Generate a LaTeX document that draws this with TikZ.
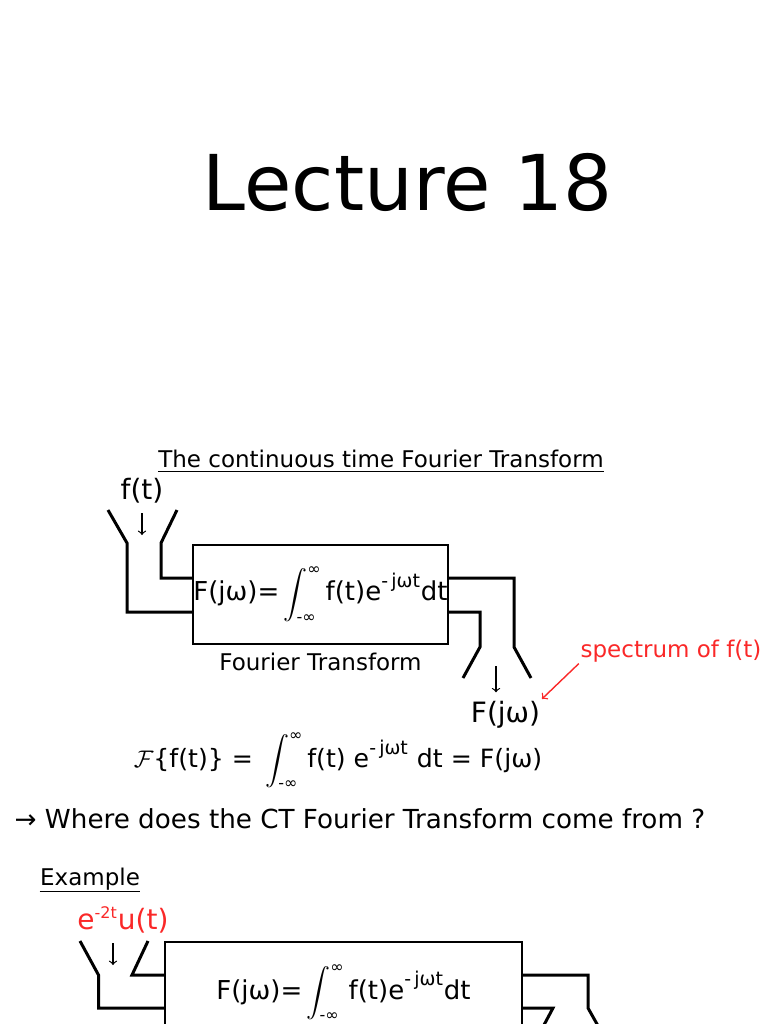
\documentclass[tikz,border=0pt]{standalone}
\usepackage{amsmath}
\usepackage{fontspec}
\setmainfont{DejaVu Sans}
\usetikzlibrary{arrows, positioning}
\definecolor{penred}{RGB}{250,40,40}
\newcommand{\limsz}{\fontsize{8}{8}\selectfont}
\newcommand{\supsz}{\fontsize{9.5}{10}\selectfont}
\newcommand{\ftint}{$\displaystyle\mbox{F(jω)=}\int_{\mbox{\limsz -∞}}^{\mbox{\limsz ∞}}\mbox{f(t)e}^{\mbox{\supsz -\,jωt}}\mbox{dt}$}
\newcommand{\ftdef}{$\displaystyle\mathcal{F}\mbox{\{f(t)\} = }\int_{\mbox{\limsz -∞}}^{\mbox{\limsz ∞}}\mbox{f(t) e}^{\mbox{\supsz -\,jωt}}\mbox{ dt = F(jω)}$}
\tikzstyle{title} = [inner sep=0pt, anchor=base, font=\fontsize{38.5}{46}\selectfont]
\tikzstyle{words} = [inner sep=0pt, anchor=base, font=\fontsize{11.5}{14}\selectfont]
\tikzstyle{question} = [inner sep=0pt, anchor=base, font=\fontsize{13.1}{15}\selectfont]
\tikzstyle{signal} = [inner sep=0pt, anchor=base, font=\fontsize{14}{17}\selectfont]
\tikzstyle{formula} = [inner sep=0pt, anchor=base, font=\fontsize{12.6}{16}\selectfont]
\tikzstyle{remark} = [words, text=penred]
\tikzstyle{system} = [draw, rectangle, line width=1pt, inner sep=0pt, font=\fontsize{13}{16}\selectfont]
\tikzstyle{pipe} = [line width=1.5pt]
\tikzstyle{flow} = [line width=0.6pt, ->, >=to]
\tikzstyle{pointer} = [flow, line width=0.7pt, draw=penred]
\begin{document}
\begin{tikzpicture}[x=0.5pt, y=-0.5pt]
    \useasboundingbox (0,0) rectangle (768,1024);
    % Title
    \node (Lecture) [title] at (408,210) {Lecture 18};

    % Heading
    \node (Heading) [words] at (381,467) {The continuous time Fourier Transform};
    \draw [thin] ([yshift=-2pt]Heading.base west) -- ([yshift=-2pt]Heading.base east);

    % Fourier Transform box
    \node (FourierBox) [system, minimum width=126.5pt, minimum height=49.5pt] at (320.5,594.5) {\ftint};
    \node (FourierLabel) [words, below=4pt of FourierBox] {Fourier Transform};

    % Input funnel
    \node (InputSignal) [signal] at (142,499) {f(t)};
    \coordinate (Inlet) at (142,535);
    \draw [flow, shorten <=5pt] (InputSignal) -- (Inlet);
    \draw [pipe] (108,510) -- (127,543) -- (127,612) -- (FourierBox.west |- 0,612);
    \draw [pipe] (177,510) -- (161,543) -- (161,578) -- (FourierBox.west |- 0,578);

    % Output funnel
    \draw [pipe] (FourierBox.east |- 0,578) -- (514,578) -- (514,647) -- (531,678);
    \draw [pipe] (FourierBox.east |- 0,612) -- (480,612) -- (480,647) -- (463,678);
    \coordinate (Outlet) at (496,666);
    \node (Spectrum) [signal] at (505.5,722) {F(jω)};
    \draw [flow, shorten >=4pt] (Outlet) -- (Outlet |- Spectrum.north);

    % Note
    \node (SpectrumNote) [remark] at (671,657) {spectrum of f(t)};
    \draw [pointer, shorten <=1pt, shorten >=1pt] (SpectrumNote.south west) -- (Spectrum.north east);

    % Definition and question
    \node (Definition) [formula] at (338,767) {\ftdef};
    \node (Question) [question] at (360,828) {→ Where does the CT Fourier Transform come from ?};

    % Example
    \node (Example) [words] at (90,885) {Example};
    \draw [thin] ([yshift=-3pt]Example.base west) -- ([yshift=-3pt]Example.base east);
    \node (ExampleSignal) [signal, text=penred] at (123,929) {$\mbox{e}^{\mbox{\limsz -2t}}\mbox{u(t)}$};
    \coordinate (ExampleInlet) at (113,965);
    \draw [flow, shorten <=5pt] (ExampleSignal.south -| ExampleInlet) -- (ExampleInlet);
    \node (ExampleBox) [system, minimum width=178.5pt, minimum height=51pt] at (343.5,993) {\ftint};
    \draw [pipe] (80,941) -- (98.5,975) -- (98.5,1008) -- (ExampleBox.west |- 0,1008);
    \draw [pipe] (148,941) -- (132,975) -- (ExampleBox.west |- 0,975);
    \draw [pipe] (ExampleBox.east |- 0,975) -- (588,975) -- (588,1008) -- (606,1040);
    \draw [pipe] (ExampleBox.east |- 0,1008) -- (553,1008) -- (536,1040);
\end{tikzpicture}
\end{document}
